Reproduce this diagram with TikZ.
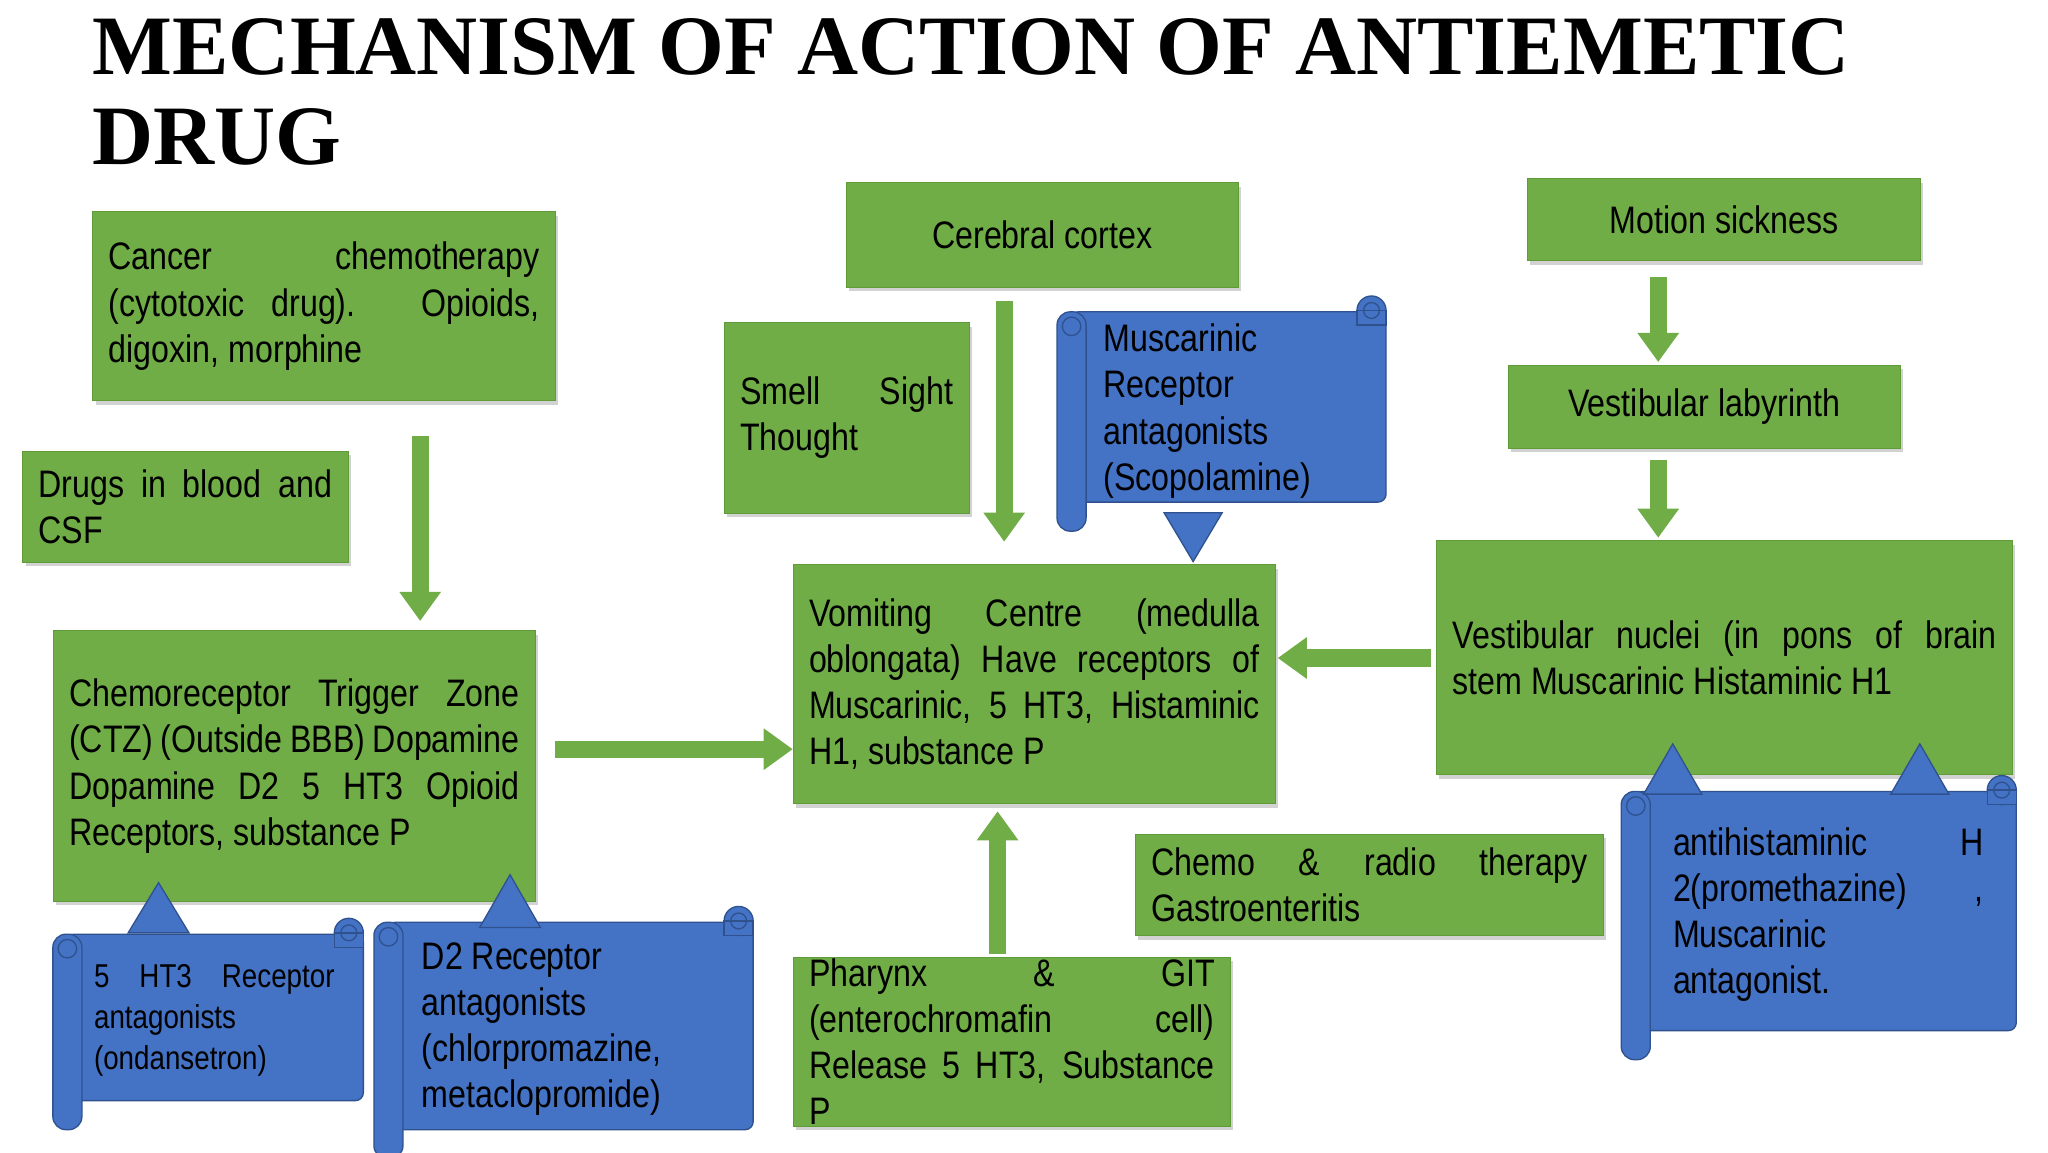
\documentclass[tikz,border=0pt]{standalone}
\usepackage{fontspec}
\setmainfont{Liberation Sans}[FakeStretch=0.84]
\newfontfamily\titlefont{Liberation Serif}
\usetikzlibrary{arrows.meta,shadows}
\definecolor{gfill}{RGB}{112,173,71}
\definecolor{gdark}{RGB}{96,155,58}
\definecolor{bfill}{RGB}{68,114,196}
\definecolor{bdark}{RGB}{47,82,143}
\tikzset{
 gbox/.style={fill=gfill,draw=gdark,line width=0.6pt,drop shadow={opacity=0.35,shadow xshift=2pt,shadow yshift=-3pt},anchor=north west,inner sep=0pt,font=\fontsize{29}{35}\selectfont,align=justify},
 garrow/.style={draw=gfill,line width=13pt,-{Triangle[width=30pt,length=22pt]}},
 tri/.style={fill=bfill,draw=bdark,line width=1pt},
 stxt/.style={anchor=north west,inner sep=0pt,align=justify},
}
% scroll: x1 y1 x2 y2
\newcommand\myscroll[4]{%
 \fill[bfill,draw=bdark,line width=1pt,rounded corners=6pt] (#1+10,#2+12) rectangle (#3,#4-22);
 \fill[bfill,draw=bdark,line width=1pt,rounded corners=10pt] (#1,#2+12) rectangle (#1+22,#4);
 \fill[bfill,draw=bdark,line width=1pt] (#3-11,#2+11) circle (11pt);
 \fill[bfill,draw=bdark,line width=1pt] (#3-22,#2+11) rectangle (#3,#2+22);
 \draw[bdark,line width=1pt] (#1+11,#2+23) circle (7pt);
 \draw[bdark,line width=1pt] (#3-11,#2+11) circle (6pt);
}
\begin{document}
\begin{tikzpicture}[x=1pt,y=-1pt]
\useasboundingbox (0,0) rectangle (1550,872);
\fill[white] (0,0) rectangle (1550,872);
\node[anchor=north west,inner sep=0pt,align=left,font=\titlefont\bfseries\fontsize{64}{68}\selectfont] (title) at (70,14) {MECHANISM OF ACTION OF ANTIEMETIC\\DRUG};

% green boxes
\node[gbox,minimum width=350pt,minimum height=143pt,text width=326pt] (canc) at (70,160) {Cancer chemotherapy\linebreak (cytotoxic drug). Opioids,\linebreak digoxin, morphine};
\node[gbox,minimum width=246pt,minimum height=84pt,text width=222pt] (drugs) at (17,341) {Drugs in blood and\linebreak CSF};
\node[gbox,minimum width=365pt,minimum height=205pt,text width=341pt] (ctz) at (40,477) {Chemoreceptor Trigger Zone\linebreak (CTZ) (Outside BBB) Dopamine\linebreak Dopamine D2 5 HT3 Opioid\linebreak Receptors, substance P};
\node[gbox,minimum width=297pt,minimum height=79pt,align=center] (cort) at (640,138) {Cerebral cortex};
\node[gbox,minimum width=185pt,minimum height=144pt,text width=161pt] (smell) at (548,244) {Smell Sight\linebreak Thought};
\node[gbox,minimum width=365pt,minimum height=181pt,text width=341pt] (vom) at (600,427) {Vomiting Centre (medulla\linebreak oblongata) Have receptors of\linebreak Muscarinic, 5 HT3, Histaminic\linebreak H1, substance P};
\node[gbox,minimum width=331pt,minimum height=128pt,text width=307pt] (phar) at (600,724) {Pharynx \& GIT\linebreak (enterochromafin cell)\linebreak Release 5 HT3, Substance\linebreak P};
\node[gbox,minimum width=354pt,minimum height=77pt,text width=330pt] (chemo) at (859,631) {Chemo \& radio therapy\linebreak Gastroenteritis};
\node[gbox,minimum width=297pt,minimum height=62pt,align=center] (mot) at (1156,135) {Motion sickness};
\node[gbox,minimum width=297pt,minimum height=63pt,align=center] (lab) at (1141,276) {Vestibular labyrinth};
\node[gbox,minimum width=436pt,minimum height=177pt,text width=412pt] (vnuc) at (1087,409) {Vestibular nuclei (in pons of brain\linebreak stem Muscarinic Histaminic H1};

% arrows
\coordinate (a1s) at (318,330); \coordinate (a1e) at (318,470);
\draw[garrow] (a1s) -- (a1e);
\coordinate (a2s) at (420,567); \coordinate (a2e) at (600,567);
\draw[garrow] (a2s) -- (a2e);
\coordinate (a3s) at (760,228); \coordinate (a3e) at (760,410);
\draw[garrow] (a3s) -- (a3e);
\coordinate (a4s) at (1083,498); \coordinate (a4e) at (967,498);
\draw[garrow] (a4s) -- (a4e);
\coordinate (a5s) at (755,722); \coordinate (a5e) at (755,614);
\draw[garrow] (a5s) -- (a5e);
\coordinate (a6s) at (1255,210); \coordinate (a6e) at (1255,274);
\draw[garrow] (a6s) -- (a6e);
\coordinate (a7s) at (1255,348); \coordinate (a7e) at (1255,407);
\draw[garrow] (a7s) -- (a7e);

% scrolls
\myscroll{40}{695}{275}{855}
\node[stxt,text width=182pt,font=\fontsize{25}{31}\selectfont] (s1) at (71,730) {5 HT3 Receptor\linebreak antagonists\linebreak (ondansetron)};
\myscroll{283}{686}{570}{877}
\node[stxt,text width=240pt,font=\fontsize{29}{35}\selectfont] (s2) at (319,713) {D2 Receptor\\ antagonists\\ (chlorpromazine,\\ metaclopromide)};
\myscroll{800}{224}{1049}{402}
\node[stxt,text width=200pt,font=\fontsize{29}{35}\selectfont] (s3) at (835,245) {Muscarinic\\ Receptor\\ antagonists\\ (Scopolamine)};
\myscroll{1227}{587}{1526}{802}
\node[stxt,text width=235pt,font=\fontsize{29}{35}\selectfont] (s4) at (1266,626) {antihistaminic\hfill H\\ 2(promethazine)\hfill ,\\ Muscarinic\\ antagonist.};

% triangles
\draw[tri] (120,668) -- (143,706) -- (97,706) -- cycle;
\draw[tri] (386,662) -- (409,702) -- (363,702) -- cycle;
\draw[tri] (903,425) -- (925,388) -- (881,388) -- cycle;
\draw[tri] (1266,563) -- (1288,601) -- (1244,601) -- cycle;
\draw[tri] (1453,563) -- (1475,601) -- (1431,601) -- cycle;
\end{tikzpicture}
\end{document}
